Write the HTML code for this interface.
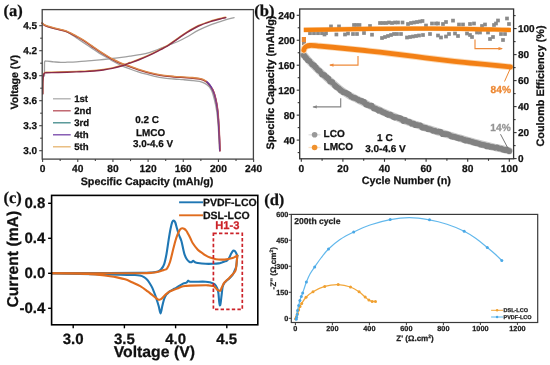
<!DOCTYPE html>
<html><head><meta charset="utf-8"><style>
html,body{margin:0;padding:0;background:#fff;}
svg{display:block;text-rendering:geometricPrecision;will-change:transform;filter:blur(0.3px);}

</style></head><body>
<svg width="550" height="365" viewBox="0 0 550 365">
<rect x="0" y="0" width="550" height="365" fill="#fff"/>
<g fill="none" stroke-linejoin="round" stroke-linecap="round">
<path d="M44.50,76.00 C44.50,74.33 44.45,68.43 44.50,66.00 C44.55,63.57 44.33,62.20 44.80,61.40 C45.27,60.60 45.83,61.13 47.30,61.20 C48.77,61.27 51.33,61.60 53.60,61.80 C55.87,62.00 58.62,62.33 60.90,62.40 C63.18,62.47 64.72,62.30 67.30,62.20 C69.88,62.10 73.37,61.97 76.40,61.80 C79.43,61.63 82.57,61.43 85.50,61.20 C88.43,60.97 91.05,60.68 94.00,60.40 C96.95,60.12 100.15,59.82 103.20,59.50 C106.25,59.18 109.27,58.85 112.30,58.50 C115.33,58.15 118.45,57.78 121.40,57.40 C124.35,57.02 126.97,56.65 130.00,56.20 C133.03,55.75 136.40,55.30 139.60,54.70 C142.80,54.10 146.00,53.52 149.20,52.60 C152.40,51.68 155.60,50.42 158.80,49.20 C162.00,47.98 165.20,46.58 168.40,45.30 C171.60,44.02 174.93,42.88 178.00,41.50 C181.07,40.12 183.37,38.88 186.80,37.00 C190.23,35.12 194.65,32.23 198.60,30.20 C202.55,28.17 206.55,26.35 210.50,24.80 C214.45,23.25 218.37,22.10 222.30,20.90 C226.23,19.70 232.13,18.15 234.10,17.60" stroke="#a0a0a0" stroke-width="1.3"/>
<path d="M42.00,23.20 C43.03,23.80 45.80,25.85 48.20,26.80 C50.60,27.75 53.67,28.20 56.40,28.90 C59.13,29.60 62.55,30.33 64.60,31.00 C66.65,31.67 67.32,32.15 68.70,32.90 C70.08,33.65 71.52,34.62 72.90,35.50 C74.28,36.38 75.28,37.05 77.00,38.20 C78.72,39.35 80.80,40.78 83.20,42.40 C85.60,44.02 88.67,46.07 91.40,47.90 C94.13,49.73 96.85,51.68 99.60,53.40 C102.35,55.12 105.67,56.88 107.90,58.20 C110.13,59.52 110.75,60.07 113.00,61.30 C115.25,62.53 118.57,64.32 121.40,65.60 C124.23,66.88 127.20,67.97 130.00,69.00 C132.80,70.03 135.47,70.93 138.20,71.80 C140.93,72.67 143.67,73.45 146.40,74.20 C149.13,74.95 151.85,75.68 154.60,76.30 C157.35,76.92 159.65,77.45 162.90,77.90 C166.15,78.35 170.72,78.70 174.10,79.00 C177.48,79.30 180.17,79.45 183.20,79.70 C186.23,79.95 189.58,80.22 192.30,80.50 C195.02,80.78 197.68,81.03 199.50,81.40 C201.32,81.77 201.98,82.17 203.20,82.70 C204.42,83.23 205.75,83.88 206.80,84.60 C207.85,85.32 208.63,85.85 209.50,87.00 C210.37,88.15 211.25,89.67 212.00,91.50 C212.75,93.33 213.37,95.58 214.00,98.00 C214.63,100.42 215.25,103.00 215.80,106.00 C216.35,109.00 216.88,112.33 217.30,116.00 C217.72,119.67 218.02,124.00 218.30,128.00 C218.58,132.00 218.82,136.50 219.00,140.00 C219.18,143.50 219.33,147.50 219.40,149.00" stroke="#a0a0a0" stroke-width="1.3"/>
<path d="M42.00,23.20 C42.35,23.52 43.07,24.50 44.10,25.10 C45.13,25.70 46.15,26.17 48.20,26.80 C50.25,27.43 53.67,28.20 56.40,28.90 C59.13,29.60 62.55,30.38 64.60,31.00 C66.65,31.62 67.32,31.98 68.70,32.60 C70.08,33.22 71.52,33.98 72.90,34.70 C74.28,35.42 75.28,35.95 77.00,36.90 C78.72,37.85 80.80,38.88 83.20,40.40 C85.60,41.92 88.67,44.12 91.40,46.00 C94.13,47.88 96.85,49.90 99.60,51.70 C102.35,53.50 105.67,55.47 107.90,56.80 C110.13,58.13 111.05,58.68 113.00,59.70 C114.95,60.72 117.12,61.85 119.60,62.90 C122.08,63.95 124.80,64.87 127.90,66.00 C131.00,67.13 135.12,68.67 138.20,69.70 C141.28,70.73 143.67,71.45 146.40,72.20 C149.13,72.95 151.85,73.60 154.60,74.20 C157.35,74.80 159.65,75.35 162.90,75.80 C166.15,76.25 170.72,76.62 174.10,76.90 C177.48,77.18 180.17,77.30 183.20,77.50 C186.23,77.70 189.58,77.87 192.30,78.10 C195.02,78.33 197.68,78.58 199.50,78.90 C201.32,79.22 201.98,79.47 203.20,80.00 C204.42,80.53 205.75,81.28 206.80,82.10 C207.85,82.92 208.63,83.80 209.50,84.90 C210.37,86.00 211.23,87.25 212.00,88.70 C212.77,90.15 213.43,91.57 214.10,93.60 C214.77,95.63 215.47,98.43 216.00,100.90 C216.53,103.37 216.93,105.65 217.30,108.40 C217.67,111.15 217.92,113.73 218.20,117.40 C218.48,121.07 218.78,126.57 219.00,130.40 C219.22,134.23 219.35,136.97 219.50,140.40 C219.65,143.83 219.83,149.23 219.90,151.00" stroke="#a03a3a" stroke-width="1.6"/>
<path d="M42.00,22.60 C42.35,22.92 43.07,23.90 44.10,24.50 C45.13,25.10 46.15,25.57 48.20,26.20 C50.25,26.83 53.67,27.60 56.40,28.30 C59.13,29.00 62.55,29.78 64.60,30.40 C66.65,31.02 67.32,31.38 68.70,32.00 C70.08,32.62 71.52,33.38 72.90,34.10 C74.28,34.82 75.28,35.35 77.00,36.30 C78.72,37.25 80.80,38.28 83.20,39.80 C85.60,41.32 88.67,43.52 91.40,45.40 C94.13,47.28 96.85,49.30 99.60,51.10 C102.35,52.90 105.67,54.87 107.90,56.20 C110.13,57.53 111.05,58.08 113.00,59.10 C114.95,60.12 117.12,61.25 119.60,62.30 C122.08,63.35 124.80,64.27 127.90,65.40 C131.00,66.53 135.12,68.07 138.20,69.10 C141.28,70.13 143.67,70.85 146.40,71.60 C149.13,72.35 151.85,73.00 154.60,73.60 C157.35,74.20 159.65,74.75 162.90,75.20 C166.15,75.65 170.72,76.02 174.10,76.30 C177.48,76.58 180.17,76.70 183.20,76.90 C186.23,77.10 189.58,77.27 192.30,77.50 C195.02,77.73 197.68,77.98 199.50,78.30 C201.32,78.62 201.98,78.87 203.20,79.40 C204.42,79.93 206.20,81.15 206.80,81.50" stroke="#dd8a4a" stroke-width="1.3"/>
<path d="M42.80,93.50 C42.82,91.50 42.80,84.58 42.90,81.50 C43.00,78.42 43.13,76.45 43.40,75.00 C43.67,73.55 44.00,73.27 44.50,72.80 C45.00,72.33 44.12,72.33 46.40,72.20 C48.68,72.07 53.20,72.13 58.20,72.00 C63.20,71.87 71.93,71.55 76.40,71.40 C80.87,71.25 82.07,71.25 85.00,71.10 C87.93,70.95 90.97,70.77 94.00,70.50 C97.03,70.23 100.15,69.93 103.20,69.50 C106.25,69.07 109.27,68.57 112.30,67.90 C115.33,67.23 118.45,66.40 121.40,65.50 C124.35,64.60 126.97,63.58 130.00,62.50 C133.03,61.42 136.40,60.27 139.60,59.00 C142.80,57.73 146.00,56.38 149.20,54.90 C152.40,53.42 155.60,51.78 158.80,50.10 C162.00,48.42 165.37,46.68 168.40,44.80 C171.43,42.92 173.93,40.92 177.00,38.80 C180.07,36.68 183.20,34.32 186.80,32.10 C190.40,29.88 194.65,27.33 198.60,25.50 C202.55,23.67 206.55,22.37 210.50,21.10 C214.45,19.83 219.75,18.57 222.30,17.90 C224.85,17.23 225.22,17.23 225.80,17.10" stroke="#e0a050" stroke-width="1.4"/>
<path d="M42.80,94.00 C42.82,92.00 42.80,85.08 42.90,82.00 C43.00,78.92 43.13,76.95 43.40,75.50 C43.67,74.05 44.00,73.77 44.50,73.30 C45.00,72.83 44.12,72.83 46.40,72.70 C48.68,72.57 53.20,72.63 58.20,72.50 C63.20,72.37 71.93,72.05 76.40,71.90 C80.87,71.75 82.07,71.75 85.00,71.60 C87.93,71.45 90.97,71.27 94.00,71.00 C97.03,70.73 100.15,70.43 103.20,70.00 C106.25,69.57 109.27,69.07 112.30,68.40 C115.33,67.73 118.45,66.90 121.40,66.00 C124.35,65.10 126.97,64.08 130.00,63.00 C133.03,61.92 136.40,60.77 139.60,59.50 C142.80,58.23 146.00,56.88 149.20,55.40 C152.40,53.92 155.60,52.28 158.80,50.60 C162.00,48.92 165.37,47.18 168.40,45.30 C171.43,43.42 173.93,41.42 177.00,39.30 C180.07,37.18 183.20,34.82 186.80,32.60 C190.40,30.38 194.65,27.83 198.60,26.00 C202.55,24.17 206.55,22.87 210.50,21.60 C214.45,20.33 219.75,19.07 222.30,18.40 C224.85,17.73 225.22,17.73 225.80,17.60" stroke="#8a2a4a" stroke-width="1.4"/>
<path d="M206.80,81.70 C207.25,82.17 208.63,83.40 209.50,84.50 C210.37,85.60 211.23,86.85 212.00,88.30 C212.77,89.75 213.43,91.17 214.10,93.20 C214.77,95.23 215.47,98.03 216.00,100.50 C216.53,102.97 216.93,105.25 217.30,108.00 C217.67,110.75 217.92,113.33 218.20,117.00 C218.48,120.67 218.78,126.17 219.00,130.00 C219.22,133.83 219.35,136.57 219.50,140.00 C219.65,143.43 219.83,148.83 219.90,150.60" stroke="#6a3aa0" stroke-width="1.4"/>
<path d="M212.50,88.30 C212.85,89.12 213.93,91.17 214.60,93.20 C215.27,95.23 215.97,98.03 216.50,100.50 C217.03,102.97 217.43,105.25 217.80,108.00 C218.17,110.75 218.42,113.33 218.70,117.00 C218.98,120.67 219.28,126.17 219.50,130.00 C219.72,133.83 219.85,136.57 220.00,140.00 C220.15,143.43 220.33,148.83 220.40,150.60" stroke="#c0504d" stroke-width="0.7"/>
</g>
<rect x="42.20" y="9.60" width="211.20" height="149.50" fill="none" stroke="#444" stroke-width="1.3"/>
<line x1="39.20" y1="150.69" x2="42.20" y2="150.69" stroke="#444" stroke-width="1.10" />
<text x="37.20" y="154.29" font-size="10.00" text-anchor="end" fill="#111" stroke="#111" stroke-width="0.25" font-family="Liberation Sans, sans-serif" font-weight="bold" >3.0</text>
<line x1="40.20" y1="138.20" x2="42.20" y2="138.20" stroke="#444" stroke-width="1.10" />
<line x1="39.20" y1="125.70" x2="42.20" y2="125.70" stroke="#444" stroke-width="1.10" />
<text x="37.20" y="129.30" font-size="10.00" text-anchor="end" fill="#111" stroke="#111" stroke-width="0.25" font-family="Liberation Sans, sans-serif" font-weight="bold" >3.3</text>
<line x1="40.20" y1="113.20" x2="42.20" y2="113.20" stroke="#444" stroke-width="1.10" />
<line x1="39.20" y1="100.70" x2="42.20" y2="100.70" stroke="#444" stroke-width="1.10" />
<text x="37.20" y="104.30" font-size="10.00" text-anchor="end" fill="#111" stroke="#111" stroke-width="0.25" font-family="Liberation Sans, sans-serif" font-weight="bold" >3.6</text>
<line x1="40.20" y1="88.20" x2="42.20" y2="88.20" stroke="#444" stroke-width="1.10" />
<line x1="39.20" y1="75.70" x2="42.20" y2="75.70" stroke="#444" stroke-width="1.10" />
<text x="37.20" y="79.30" font-size="10.00" text-anchor="end" fill="#111" stroke="#111" stroke-width="0.25" font-family="Liberation Sans, sans-serif" font-weight="bold" >3.9</text>
<line x1="40.20" y1="63.20" x2="42.20" y2="63.20" stroke="#444" stroke-width="1.10" />
<line x1="39.20" y1="50.70" x2="42.20" y2="50.70" stroke="#444" stroke-width="1.10" />
<text x="37.20" y="54.30" font-size="10.00" text-anchor="end" fill="#111" stroke="#111" stroke-width="0.25" font-family="Liberation Sans, sans-serif" font-weight="bold" >4.2</text>
<line x1="40.20" y1="38.20" x2="42.20" y2="38.20" stroke="#444" stroke-width="1.10" />
<line x1="39.20" y1="25.70" x2="42.20" y2="25.70" stroke="#444" stroke-width="1.10" />
<text x="37.20" y="29.30" font-size="10.00" text-anchor="end" fill="#111" stroke="#111" stroke-width="0.25" font-family="Liberation Sans, sans-serif" font-weight="bold" >4.5</text>
<line x1="42.60" y1="159.10" x2="42.60" y2="162.10" stroke="#444" stroke-width="1.10" />
<text x="42.60" y="172.30" font-size="10.20" text-anchor="middle" fill="#111" stroke="#111" stroke-width="0.25" font-family="Liberation Sans, sans-serif" font-weight="bold" >0</text>
<line x1="60.18" y1="159.10" x2="60.18" y2="161.10" stroke="#444" stroke-width="1.10" />
<line x1="77.77" y1="159.10" x2="77.77" y2="162.10" stroke="#444" stroke-width="1.10" />
<text x="77.77" y="172.30" font-size="10.20" text-anchor="middle" fill="#111" stroke="#111" stroke-width="0.25" font-family="Liberation Sans, sans-serif" font-weight="bold" >40</text>
<line x1="95.35" y1="159.10" x2="95.35" y2="161.10" stroke="#444" stroke-width="1.10" />
<line x1="112.94" y1="159.10" x2="112.94" y2="162.10" stroke="#444" stroke-width="1.10" />
<text x="112.94" y="172.30" font-size="10.20" text-anchor="middle" fill="#111" stroke="#111" stroke-width="0.25" font-family="Liberation Sans, sans-serif" font-weight="bold" >80</text>
<line x1="130.52" y1="159.10" x2="130.52" y2="161.10" stroke="#444" stroke-width="1.10" />
<line x1="148.10" y1="159.10" x2="148.10" y2="162.10" stroke="#444" stroke-width="1.10" />
<text x="148.10" y="172.30" font-size="10.20" text-anchor="middle" fill="#111" stroke="#111" stroke-width="0.25" font-family="Liberation Sans, sans-serif" font-weight="bold" >120</text>
<line x1="165.69" y1="159.10" x2="165.69" y2="161.10" stroke="#444" stroke-width="1.10" />
<line x1="183.27" y1="159.10" x2="183.27" y2="162.10" stroke="#444" stroke-width="1.10" />
<text x="183.27" y="172.30" font-size="10.20" text-anchor="middle" fill="#111" stroke="#111" stroke-width="0.25" font-family="Liberation Sans, sans-serif" font-weight="bold" >160</text>
<line x1="200.86" y1="159.10" x2="200.86" y2="161.10" stroke="#444" stroke-width="1.10" />
<line x1="218.44" y1="159.10" x2="218.44" y2="162.10" stroke="#444" stroke-width="1.10" />
<text x="218.44" y="172.30" font-size="10.20" text-anchor="middle" fill="#111" stroke="#111" stroke-width="0.25" font-family="Liberation Sans, sans-serif" font-weight="bold" >200</text>
<line x1="236.02" y1="159.10" x2="236.02" y2="161.10" stroke="#444" stroke-width="1.10" />
<line x1="253.61" y1="159.10" x2="253.61" y2="162.10" stroke="#444" stroke-width="1.10" />
<text x="253.61" y="172.30" font-size="10.20" text-anchor="middle" fill="#111" stroke="#111" stroke-width="0.25" font-family="Liberation Sans, sans-serif" font-weight="bold" >240</text>
<text x="147.00" y="185.00" font-size="10.75" text-anchor="middle" fill="#111" stroke="#111" stroke-width="0.25" font-family="Liberation Sans, sans-serif" font-weight="bold" >Specific Capacity (mAh/g)</text>
<text transform="translate(17.50,82.30) rotate(-90)" x="0" y="0" font-size="10.60" text-anchor="middle" fill="#111" stroke="#111" stroke-width="0.25" font-family="Liberation Sans, sans-serif" font-weight="bold">Voltage (V)</text>
<text x="3.50" y="16.20" font-size="16.50" text-anchor="start" fill="#111" stroke="#111" stroke-width="0.25" font-family="Liberation Serif, serif" font-weight="bold" >(a)</text>
<line x1="53.00" y1="98.80" x2="70.70" y2="98.80" stroke="#adadad" stroke-width="1.30" />
<text x="74.20" y="102.10" font-size="9.60" text-anchor="start" fill="#111" stroke="#111" stroke-width="0.25" font-family="Liberation Sans, sans-serif" font-weight="bold" >1st</text>
<line x1="53.00" y1="110.80" x2="70.70" y2="110.80" stroke="#b8505a" stroke-width="1.30" />
<text x="74.20" y="114.10" font-size="9.60" text-anchor="start" fill="#111" stroke="#111" stroke-width="0.25" font-family="Liberation Sans, sans-serif" font-weight="bold" >2nd</text>
<line x1="53.00" y1="122.80" x2="70.70" y2="122.80" stroke="#3f8a8a" stroke-width="1.30" />
<text x="74.20" y="126.10" font-size="9.60" text-anchor="start" fill="#111" stroke="#111" stroke-width="0.25" font-family="Liberation Sans, sans-serif" font-weight="bold" >3rd</text>
<line x1="53.00" y1="134.80" x2="70.70" y2="134.80" stroke="#7444a8" stroke-width="1.30" />
<text x="74.20" y="138.10" font-size="9.60" text-anchor="start" fill="#111" stroke="#111" stroke-width="0.25" font-family="Liberation Sans, sans-serif" font-weight="bold" >4th</text>
<line x1="53.00" y1="146.80" x2="70.70" y2="146.80" stroke="#e6b46e" stroke-width="1.30" />
<text x="74.20" y="150.10" font-size="9.60" text-anchor="start" fill="#111" stroke="#111" stroke-width="0.25" font-family="Liberation Sans, sans-serif" font-weight="bold" >5th</text>
<text x="135.30" y="122.70" font-size="9.90" text-anchor="start" fill="#111" stroke="#111" stroke-width="0.25" font-family="Liberation Sans, sans-serif" font-weight="bold" >0.2 C</text>
<text x="136.00" y="135.50" font-size="9.90" text-anchor="start" fill="#111" stroke="#111" stroke-width="0.25" font-family="Liberation Sans, sans-serif" font-weight="bold" >LMCO</text>
<text x="133.10" y="146.50" font-size="9.90" text-anchor="start" fill="#111" stroke="#111" stroke-width="0.25" font-family="Liberation Sans, sans-serif" font-weight="bold" >3.0-4.6 V</text>
<rect x="308.15" y="31.35" width="3.7" height="3.7" fill="#8a8a8a"/>
<rect x="312.15" y="31.35" width="3.7" height="3.7" fill="#8a8a8a"/>
<rect x="316.15" y="31.35" width="3.7" height="3.7" fill="#8a8a8a"/>
<rect x="320.15" y="31.35" width="3.7" height="3.7" fill="#8a8a8a"/>
<rect x="324.15" y="31.35" width="3.7" height="3.7" fill="#8a8a8a"/>
<rect x="322.65" y="32.65" width="3.7" height="3.7" fill="#8a8a8a"/>
<rect x="334.55" y="32.65" width="3.7" height="3.7" fill="#8a8a8a"/>
<rect x="343.15" y="32.65" width="3.7" height="3.7" fill="#8a8a8a"/>
<rect x="329.15" y="24.55" width="3.7" height="3.7" fill="#8a8a8a"/>
<rect x="337.15" y="24.55" width="3.7" height="3.7" fill="#8a8a8a"/>
<rect x="352.15" y="23.15" width="3.7" height="3.7" fill="#8a8a8a"/>
<rect x="354.65" y="23.15" width="3.7" height="3.7" fill="#8a8a8a"/>
<rect x="357.65" y="23.15" width="3.7" height="3.7" fill="#8a8a8a"/>
<rect x="368.15" y="24.15" width="3.7" height="3.7" fill="#8a8a8a"/>
<rect x="378.15" y="21.15" width="3.7" height="3.7" fill="#8a8a8a"/>
<rect x="381.15" y="21.15" width="3.7" height="3.7" fill="#8a8a8a"/>
<rect x="384.15" y="21.15" width="3.7" height="3.7" fill="#8a8a8a"/>
<rect x="387.15" y="20.65" width="3.7" height="3.7" fill="#8a8a8a"/>
<rect x="390.15" y="21.15" width="3.7" height="3.7" fill="#8a8a8a"/>
<rect x="346.15" y="31.65" width="3.7" height="3.7" fill="#8a8a8a"/>
<rect x="351.15" y="32.15" width="3.7" height="3.7" fill="#8a8a8a"/>
<rect x="355.15" y="32.15" width="3.7" height="3.7" fill="#8a8a8a"/>
<rect x="362.15" y="31.15" width="3.7" height="3.7" fill="#8a8a8a"/>
<rect x="370.15" y="32.85" width="3.7" height="3.7" fill="#8a8a8a"/>
<rect x="380.15" y="36.15" width="3.7" height="3.7" fill="#8a8a8a"/>
<rect x="383.15" y="35.15" width="3.7" height="3.7" fill="#8a8a8a"/>
<rect x="386.15" y="34.15" width="3.7" height="3.7" fill="#8a8a8a"/>
<rect x="389.15" y="33.15" width="3.7" height="3.7" fill="#8a8a8a"/>
<rect x="392.15" y="32.15" width="3.7" height="3.7" fill="#8a8a8a"/>
<rect x="393.15" y="20.65" width="3.7" height="3.7" fill="#8a8a8a"/>
<rect x="396.15" y="20.65" width="3.7" height="3.7" fill="#8a8a8a"/>
<rect x="400.65" y="20.65" width="3.7" height="3.7" fill="#8a8a8a"/>
<rect x="406.15" y="22.15" width="3.7" height="3.7" fill="#8a8a8a"/>
<rect x="409.15" y="21.15" width="3.7" height="3.7" fill="#8a8a8a"/>
<rect x="412.15" y="20.65" width="3.7" height="3.7" fill="#8a8a8a"/>
<rect x="415.15" y="20.15" width="3.7" height="3.7" fill="#8a8a8a"/>
<rect x="418.15" y="19.65" width="3.7" height="3.7" fill="#8a8a8a"/>
<rect x="420.65" y="19.15" width="3.7" height="3.7" fill="#8a8a8a"/>
<rect x="424.15" y="23.65" width="3.7" height="3.7" fill="#8a8a8a"/>
<rect x="430.15" y="21.65" width="3.7" height="3.7" fill="#8a8a8a"/>
<rect x="434.15" y="21.65" width="3.7" height="3.7" fill="#8a8a8a"/>
<rect x="395.15" y="32.15" width="3.7" height="3.7" fill="#8a8a8a"/>
<rect x="399.15" y="32.15" width="3.7" height="3.7" fill="#8a8a8a"/>
<rect x="405.15" y="35.65" width="3.7" height="3.7" fill="#8a8a8a"/>
<rect x="408.15" y="35.15" width="3.7" height="3.7" fill="#8a8a8a"/>
<rect x="411.15" y="34.65" width="3.7" height="3.7" fill="#8a8a8a"/>
<rect x="414.15" y="34.15" width="3.7" height="3.7" fill="#8a8a8a"/>
<rect x="417.15" y="33.65" width="3.7" height="3.7" fill="#8a8a8a"/>
<rect x="421.15" y="33.15" width="3.7" height="3.7" fill="#8a8a8a"/>
<rect x="428.15" y="32.15" width="3.7" height="3.7" fill="#8a8a8a"/>
<rect x="436.15" y="33.65" width="3.7" height="3.7" fill="#8a8a8a"/>
<rect x="436.15" y="21.65" width="3.7" height="3.7" fill="#8a8a8a"/>
<rect x="441.15" y="22.15" width="3.7" height="3.7" fill="#8a8a8a"/>
<rect x="444.15" y="20.15" width="3.7" height="3.7" fill="#8a8a8a"/>
<rect x="451.15" y="18.75" width="3.7" height="3.7" fill="#8a8a8a"/>
<rect x="457.15" y="22.65" width="3.7" height="3.7" fill="#8a8a8a"/>
<rect x="461.15" y="22.65" width="3.7" height="3.7" fill="#8a8a8a"/>
<rect x="468.15" y="22.15" width="3.7" height="3.7" fill="#8a8a8a"/>
<rect x="472.15" y="21.65" width="3.7" height="3.7" fill="#8a8a8a"/>
<rect x="480.15" y="24.15" width="3.7" height="3.7" fill="#8a8a8a"/>
<rect x="483.15" y="22.65" width="3.7" height="3.7" fill="#8a8a8a"/>
<rect x="439.15" y="35.65" width="3.7" height="3.7" fill="#8a8a8a"/>
<rect x="444.15" y="34.65" width="3.7" height="3.7" fill="#8a8a8a"/>
<rect x="447.15" y="32.15" width="3.7" height="3.7" fill="#8a8a8a"/>
<rect x="453.15" y="31.65" width="3.7" height="3.7" fill="#8a8a8a"/>
<rect x="456.15" y="34.15" width="3.7" height="3.7" fill="#8a8a8a"/>
<rect x="465.15" y="31.65" width="3.7" height="3.7" fill="#8a8a8a"/>
<rect x="468.15" y="33.15" width="3.7" height="3.7" fill="#8a8a8a"/>
<rect x="470.15" y="35.15" width="3.7" height="3.7" fill="#8a8a8a"/>
<rect x="475.15" y="30.65" width="3.7" height="3.7" fill="#8a8a8a"/>
<rect x="478.15" y="30.65" width="3.7" height="3.7" fill="#8a8a8a"/>
<rect x="492.15" y="23.15" width="3.7" height="3.7" fill="#8a8a8a"/>
<rect x="494.15" y="21.65" width="3.7" height="3.7" fill="#8a8a8a"/>
<rect x="496.15" y="18.65" width="3.7" height="3.7" fill="#8a8a8a"/>
<rect x="505.15" y="16.65" width="3.7" height="3.7" fill="#8a8a8a"/>
<rect x="507.15" y="22.15" width="3.7" height="3.7" fill="#8a8a8a"/>
<rect x="486.15" y="30.65" width="3.7" height="3.7" fill="#8a8a8a"/>
<rect x="488.15" y="37.15" width="3.7" height="3.7" fill="#8a8a8a"/>
<rect x="491.15" y="35.15" width="3.7" height="3.7" fill="#8a8a8a"/>
<rect x="499.15" y="32.15" width="3.7" height="3.7" fill="#8a8a8a"/>
<rect x="503.15" y="32.15" width="3.7" height="3.7" fill="#8a8a8a"/>
<rect x="501.15" y="38.15" width="3.7" height="3.7" fill="#8a8a8a"/>
<path d="M303.80,29.90 C307.33,29.85 313.97,29.78 325.00,29.60 C336.03,29.42 355.00,28.97 370.00,28.80 C385.00,28.63 400.00,28.60 415.00,28.60 C430.00,28.60 446.67,28.65 460.00,28.80 C473.33,28.95 486.52,29.30 495.00,29.50 C503.48,29.70 508.25,29.92 510.90,30.00" fill="none" stroke="#f5a45a" stroke-width="5.0" stroke-linecap="butt" opacity="0.5"/>
<path d="M303.80,29.90 C307.33,29.85 313.97,29.78 325.00,29.60 C336.03,29.42 355.00,28.97 370.00,28.80 C385.00,28.63 400.00,28.60 415.00,28.60 C430.00,28.60 446.67,28.65 460.00,28.80 C473.33,28.95 486.52,29.30 495.00,29.50 C503.48,29.70 508.25,29.92 510.90,30.00" fill="none" stroke="#f5820f" stroke-width="4.2" stroke-linecap="butt"/>
<path d="M303.80,54.94 C304.48,55.72 306.54,58.10 307.90,59.61 C309.27,61.12 310.64,62.58 312.01,64.00 C313.38,65.42 314.74,66.80 316.11,68.14 C317.48,69.48 318.85,70.77 320.22,72.04 C321.58,73.31 322.95,74.54 324.32,75.77 C325.69,76.99 327.06,78.18 328.42,79.37 C329.79,80.56 331.16,81.74 332.53,82.91 C333.90,84.08 335.26,85.26 336.63,86.40 C338.00,87.53 339.37,88.66 340.74,89.71 C342.10,90.75 343.47,91.75 344.84,92.67 C346.21,93.58 347.58,94.40 348.94,95.17 C350.31,95.95 351.68,96.64 353.05,97.34 C354.42,98.03 355.78,98.68 357.15,99.35 C358.52,100.02 359.89,100.69 361.26,101.37 C362.62,102.05 363.99,102.74 365.36,103.42 C366.73,104.11 368.10,104.80 369.46,105.47 C370.83,106.15 372.20,106.82 373.57,107.47 C374.94,108.13 376.30,108.77 377.67,109.41 C379.04,110.04 380.41,110.66 381.78,111.27 C383.14,111.88 384.51,112.48 385.88,113.07 C387.25,113.66 388.62,114.23 389.98,114.80 C391.35,115.37 392.72,115.93 394.09,116.48 C395.46,117.03 396.82,117.57 398.19,118.10 C399.56,118.64 400.93,119.16 402.30,119.68 C403.66,120.19 405.03,120.70 406.40,121.21 C407.77,121.71 409.14,122.20 410.50,122.69 C411.87,123.18 413.24,123.66 414.61,124.14 C415.98,124.61 417.34,125.08 418.71,125.55 C420.08,126.01 421.45,126.47 422.82,126.93 C424.18,127.38 425.55,127.83 426.92,128.27 C428.29,128.72 429.66,129.16 431.02,129.59 C432.39,130.03 433.76,130.46 435.13,130.88 C436.50,131.31 437.86,131.73 439.23,132.15 C440.60,132.57 441.97,132.98 443.34,133.40 C444.70,133.81 446.07,134.21 447.44,134.62 C448.81,135.02 450.18,135.43 451.54,135.82 C452.91,136.22 454.28,136.62 455.65,137.01 C457.02,137.41 458.38,137.80 459.75,138.18 C461.12,138.57 462.49,138.96 463.86,139.34 C465.22,139.72 466.59,140.10 467.96,140.48 C469.33,140.86 470.70,141.24 472.06,141.61 C473.43,141.98 474.80,142.36 476.17,142.72 C477.54,143.09 478.90,143.46 480.27,143.82 C481.64,144.19 483.01,144.55 484.38,144.90 C485.74,145.25 487.11,145.59 488.48,145.92 C489.85,146.26 491.22,146.58 492.58,146.89 C493.95,147.20 495.32,147.49 496.69,147.79 C498.06,148.09 499.42,148.38 500.79,148.69 C502.16,149.01 503.53,149.33 504.90,149.68 C506.26,150.03 508.32,150.61 509.00,150.79" fill="none" stroke="#c8c8c8" stroke-width="7.4" stroke-linecap="round" stroke-linejoin="round"/>
<path d="M303.80,54.94 C304.48,55.72 306.54,58.10 307.90,59.61 C309.27,61.12 310.64,62.58 312.01,64.00 C313.38,65.42 314.74,66.80 316.11,68.14 C317.48,69.48 318.85,70.77 320.22,72.04 C321.58,73.31 322.95,74.54 324.32,75.77 C325.69,76.99 327.06,78.18 328.42,79.37 C329.79,80.56 331.16,81.74 332.53,82.91 C333.90,84.08 335.26,85.26 336.63,86.40 C338.00,87.53 339.37,88.66 340.74,89.71 C342.10,90.75 343.47,91.75 344.84,92.67 C346.21,93.58 347.58,94.40 348.94,95.17 C350.31,95.95 351.68,96.64 353.05,97.34 C354.42,98.03 355.78,98.68 357.15,99.35 C358.52,100.02 359.89,100.69 361.26,101.37 C362.62,102.05 363.99,102.74 365.36,103.42 C366.73,104.11 368.10,104.80 369.46,105.47 C370.83,106.15 372.20,106.82 373.57,107.47 C374.94,108.13 376.30,108.77 377.67,109.41 C379.04,110.04 380.41,110.66 381.78,111.27 C383.14,111.88 384.51,112.48 385.88,113.07 C387.25,113.66 388.62,114.23 389.98,114.80 C391.35,115.37 392.72,115.93 394.09,116.48 C395.46,117.03 396.82,117.57 398.19,118.10 C399.56,118.64 400.93,119.16 402.30,119.68 C403.66,120.19 405.03,120.70 406.40,121.21 C407.77,121.71 409.14,122.20 410.50,122.69 C411.87,123.18 413.24,123.66 414.61,124.14 C415.98,124.61 417.34,125.08 418.71,125.55 C420.08,126.01 421.45,126.47 422.82,126.93 C424.18,127.38 425.55,127.83 426.92,128.27 C428.29,128.72 429.66,129.16 431.02,129.59 C432.39,130.03 433.76,130.46 435.13,130.88 C436.50,131.31 437.86,131.73 439.23,132.15 C440.60,132.57 441.97,132.98 443.34,133.40 C444.70,133.81 446.07,134.21 447.44,134.62 C448.81,135.02 450.18,135.43 451.54,135.82 C452.91,136.22 454.28,136.62 455.65,137.01 C457.02,137.41 458.38,137.80 459.75,138.18 C461.12,138.57 462.49,138.96 463.86,139.34 C465.22,139.72 466.59,140.10 467.96,140.48 C469.33,140.86 470.70,141.24 472.06,141.61 C473.43,141.98 474.80,142.36 476.17,142.72 C477.54,143.09 478.90,143.46 480.27,143.82 C481.64,144.19 483.01,144.55 484.38,144.90 C485.74,145.25 487.11,145.59 488.48,145.92 C489.85,146.26 491.22,146.58 492.58,146.89 C493.95,147.20 495.32,147.49 496.69,147.79 C498.06,148.09 499.42,148.38 500.79,148.69 C502.16,149.01 503.53,149.33 504.90,149.68 C506.26,150.03 508.32,150.61 509.00,150.79" fill="none" stroke="#828282" stroke-width="5.0" stroke-linecap="round" stroke-linejoin="round"/>
<circle cx="303.80" cy="55.42" r="2.8" fill="#828282"/>
<circle cx="305.70" cy="58.02" r="2.8" fill="#828282"/>
<circle cx="307.73" cy="60.26" r="2.8" fill="#828282"/>
<circle cx="309.24" cy="61.00" r="2.8" fill="#828282"/>
<circle cx="312.05" cy="64.35" r="2.8" fill="#828282"/>
<circle cx="314.10" cy="65.37" r="2.8" fill="#828282"/>
<circle cx="315.84" cy="67.36" r="2.8" fill="#828282"/>
<circle cx="317.98" cy="70.08" r="2.8" fill="#828282"/>
<circle cx="319.63" cy="70.93" r="2.8" fill="#828282"/>
<circle cx="321.92" cy="74.44" r="2.8" fill="#828282"/>
<circle cx="324.39" cy="75.15" r="2.8" fill="#828282"/>
<circle cx="326.50" cy="76.96" r="2.8" fill="#828282"/>
<circle cx="328.43" cy="78.63" r="2.8" fill="#828282"/>
<circle cx="330.02" cy="81.49" r="2.8" fill="#828282"/>
<circle cx="332.27" cy="82.12" r="2.8" fill="#828282"/>
<circle cx="334.97" cy="85.74" r="2.8" fill="#828282"/>
<circle cx="336.49" cy="87.20" r="2.8" fill="#828282"/>
<circle cx="338.77" cy="88.51" r="2.8" fill="#828282"/>
<circle cx="340.58" cy="90.47" r="2.8" fill="#828282"/>
<circle cx="343.05" cy="92.36" r="2.8" fill="#828282"/>
<circle cx="345.29" cy="92.56" r="2.8" fill="#828282"/>
<circle cx="346.95" cy="93.34" r="2.8" fill="#828282"/>
<circle cx="348.86" cy="94.26" r="2.8" fill="#828282"/>
<circle cx="351.06" cy="96.53" r="2.8" fill="#828282"/>
<circle cx="352.90" cy="97.62" r="2.8" fill="#828282"/>
<circle cx="355.25" cy="98.04" r="2.8" fill="#828282"/>
<circle cx="357.71" cy="99.59" r="2.8" fill="#828282"/>
<circle cx="359.39" cy="100.41" r="2.8" fill="#828282"/>
<circle cx="361.78" cy="100.75" r="2.8" fill="#828282"/>
<circle cx="364.08" cy="101.83" r="2.8" fill="#828282"/>
<circle cx="365.98" cy="104.42" r="2.8" fill="#828282"/>
<circle cx="367.47" cy="105.06" r="2.8" fill="#828282"/>
<circle cx="369.83" cy="105.81" r="2.8" fill="#828282"/>
<circle cx="371.63" cy="105.63" r="2.8" fill="#828282"/>
<circle cx="373.84" cy="108.51" r="2.8" fill="#828282"/>
<circle cx="375.94" cy="109.11" r="2.8" fill="#828282"/>
<circle cx="378.60" cy="110.72" r="2.8" fill="#828282"/>
<circle cx="380.22" cy="110.28" r="2.8" fill="#828282"/>
<circle cx="382.44" cy="112.12" r="2.8" fill="#828282"/>
<circle cx="384.19" cy="112.83" r="2.8" fill="#828282"/>
<circle cx="386.82" cy="114.19" r="2.8" fill="#828282"/>
<circle cx="388.29" cy="114.99" r="2.8" fill="#828282"/>
<circle cx="390.41" cy="114.66" r="2.8" fill="#828282"/>
<circle cx="392.91" cy="116.84" r="2.8" fill="#828282"/>
<circle cx="394.77" cy="117.60" r="2.8" fill="#828282"/>
<circle cx="397.02" cy="117.27" r="2.8" fill="#828282"/>
<circle cx="398.91" cy="117.74" r="2.8" fill="#828282"/>
<circle cx="400.80" cy="118.41" r="2.8" fill="#828282"/>
<circle cx="403.37" cy="121.08" r="2.8" fill="#828282"/>
<circle cx="405.03" cy="119.80" r="2.8" fill="#828282"/>
<circle cx="407.77" cy="121.77" r="2.8" fill="#828282"/>
<circle cx="409.38" cy="121.76" r="2.8" fill="#828282"/>
<circle cx="411.62" cy="123.74" r="2.8" fill="#828282"/>
<circle cx="413.58" cy="123.62" r="2.8" fill="#828282"/>
<circle cx="415.34" cy="125.23" r="2.8" fill="#828282"/>
<circle cx="417.41" cy="125.09" r="2.8" fill="#828282"/>
<circle cx="420.13" cy="125.29" r="2.8" fill="#828282"/>
<circle cx="422.13" cy="127.60" r="2.8" fill="#828282"/>
<circle cx="424.12" cy="127.93" r="2.8" fill="#828282"/>
<circle cx="425.79" cy="127.77" r="2.8" fill="#828282"/>
<circle cx="427.90" cy="129.28" r="2.8" fill="#828282"/>
<circle cx="430.10" cy="129.20" r="2.8" fill="#828282"/>
<circle cx="432.74" cy="130.84" r="2.8" fill="#828282"/>
<circle cx="434.80" cy="130.69" r="2.8" fill="#828282"/>
<circle cx="436.49" cy="131.77" r="2.8" fill="#828282"/>
<circle cx="438.56" cy="131.53" r="2.8" fill="#828282"/>
<circle cx="440.58" cy="131.86" r="2.8" fill="#828282"/>
<circle cx="442.64" cy="134.16" r="2.8" fill="#828282"/>
<circle cx="445.19" cy="134.20" r="2.8" fill="#828282"/>
<circle cx="446.90" cy="134.14" r="2.8" fill="#828282"/>
<circle cx="448.65" cy="134.52" r="2.8" fill="#828282"/>
<circle cx="451.29" cy="136.48" r="2.8" fill="#828282"/>
<circle cx="453.03" cy="136.83" r="2.8" fill="#828282"/>
<circle cx="455.44" cy="137.34" r="2.8" fill="#828282"/>
<circle cx="457.43" cy="138.04" r="2.8" fill="#828282"/>
<circle cx="459.27" cy="138.46" r="2.8" fill="#828282"/>
<circle cx="461.28" cy="138.59" r="2.8" fill="#828282"/>
<circle cx="463.76" cy="139.69" r="2.8" fill="#828282"/>
<circle cx="465.46" cy="140.68" r="2.8" fill="#828282"/>
<circle cx="467.82" cy="140.60" r="2.8" fill="#828282"/>
<circle cx="469.39" cy="140.97" r="2.8" fill="#828282"/>
<circle cx="471.66" cy="141.84" r="2.8" fill="#828282"/>
<circle cx="473.91" cy="142.75" r="2.8" fill="#828282"/>
<circle cx="476.14" cy="143.31" r="2.8" fill="#828282"/>
<circle cx="477.98" cy="143.50" r="2.8" fill="#828282"/>
<circle cx="480.37" cy="144.51" r="2.8" fill="#828282"/>
<circle cx="482.14" cy="145.00" r="2.8" fill="#828282"/>
<circle cx="484.64" cy="145.34" r="2.8" fill="#828282"/>
<circle cx="486.80" cy="146.42" r="2.8" fill="#828282"/>
<circle cx="488.51" cy="145.99" r="2.8" fill="#828282"/>
<circle cx="490.31" cy="147.04" r="2.8" fill="#828282"/>
<circle cx="493.01" cy="146.94" r="2.8" fill="#828282"/>
<circle cx="494.89" cy="147.84" r="2.8" fill="#828282"/>
<circle cx="497.00" cy="147.20" r="2.8" fill="#828282"/>
<circle cx="499.12" cy="148.48" r="2.8" fill="#828282"/>
<circle cx="501.11" cy="148.61" r="2.8" fill="#828282"/>
<circle cx="503.16" cy="149.80" r="2.8" fill="#828282"/>
<circle cx="505.25" cy="150.21" r="2.8" fill="#828282"/>
<circle cx="506.84" cy="149.51" r="2.8" fill="#828282"/>
<circle cx="509.25" cy="151.16" r="2.8" fill="#828282"/>
<rect x="302.0" y="41.6" width="4.0" height="3.4" fill="#9a8a80"/>
<rect x="301.8" y="37.0" width="4.2" height="5.0" fill="#f08a30"/>
<path d="M303.80,50.20 C303.93,49.83 304.15,48.65 304.60,48.00 C305.05,47.35 305.60,46.72 306.50,46.30 C307.40,45.88 308.58,45.62 310.00,45.50 C311.42,45.38 313.33,45.50 315.00,45.60 C316.67,45.70 316.67,45.78 320.00,46.10 C323.33,46.42 330.00,47.02 335.00,47.50 C340.00,47.98 345.00,48.50 350.00,49.00 C355.00,49.50 360.00,49.97 365.00,50.50 C370.00,51.03 374.17,51.52 380.00,52.20 C385.83,52.88 392.50,53.67 400.00,54.60 C407.50,55.53 416.67,56.75 425.00,57.80 C433.33,58.85 442.50,60.03 450.00,60.90 C457.50,61.77 463.33,62.35 470.00,63.00 C476.67,63.65 483.25,64.13 490.00,64.80 C496.75,65.47 507.08,66.63 510.50,67.00" fill="none" stroke="#fbd9b5" stroke-width="6.6" stroke-linecap="round" stroke-linejoin="round"/>
<path d="M303.80,50.20 C303.93,49.83 304.15,48.65 304.60,48.00 C305.05,47.35 305.60,46.72 306.50,46.30 C307.40,45.88 308.58,45.62 310.00,45.50 C311.42,45.38 313.33,45.50 315.00,45.60 C316.67,45.70 316.67,45.78 320.00,46.10 C323.33,46.42 330.00,47.02 335.00,47.50 C340.00,47.98 345.00,48.50 350.00,49.00 C355.00,49.50 360.00,49.97 365.00,50.50 C370.00,51.03 374.17,51.52 380.00,52.20 C385.83,52.88 392.50,53.67 400.00,54.60 C407.50,55.53 416.67,56.75 425.00,57.80 C433.33,58.85 442.50,60.03 450.00,60.90 C457.50,61.77 463.33,62.35 470.00,63.00 C476.67,63.65 483.25,64.13 490.00,64.80 C496.75,65.47 507.08,66.63 510.50,67.00" fill="none" stroke="#f38015" stroke-width="4.8" stroke-linecap="round" stroke-linejoin="round"/>
<path d="M358.00,56.00 L358.00,65.10 L330.00,65.10" fill="none" stroke="#ee8a3a" stroke-width="1.15"/>
<path d="M329.00,65.10 L333.50,63.40 L333.50,66.80 Z" fill="#ee8a3a"/>
<path d="M340.70,98.20 L340.70,106.90 L313.30,106.90" fill="none" stroke="#858585" stroke-width="1.15"/>
<path d="M312.30,106.90 L316.80,105.20 L316.80,108.60 Z" fill="#858585"/>
<path d="M475.00,39.60 L475.00,48.60 L502.00,48.60" fill="none" stroke="#ee8a3a" stroke-width="1.15"/>
<path d="M503.00,48.60 L498.50,46.90 L498.50,50.30 Z" fill="#ee8a3a"/>
<text x="500.80" y="92.60" font-size="10.20" text-anchor="middle" fill="#ec8630" stroke="#ec8630" stroke-width="0.25" font-family="Liberation Sans, sans-serif" font-weight="bold" >84%</text>
<text x="500.50" y="131.00" font-size="10.20" text-anchor="middle" fill="#939393" stroke="#939393" stroke-width="0.25" font-family="Liberation Sans, sans-serif" font-weight="bold" >14%</text>
<path d="M504.5,81.5 L510.3,68.5" stroke="#ec8630" stroke-width="1" fill="none"/>
<path d="M500.5,134.2 L507.8,148" stroke="#777" stroke-width="1" fill="none"/>
<rect x="299.70" y="9.00" width="213.90" height="149.80" fill="none" stroke="#333" stroke-width="1.3"/>
<line x1="297.70" y1="152.58" x2="299.70" y2="152.58" stroke="#333" stroke-width="1.10" />
<line x1="296.70" y1="140.10" x2="299.70" y2="140.10" stroke="#333" stroke-width="1.10" />
<text x="294.90" y="143.60" font-size="10.00" text-anchor="end" fill="#111" stroke="#111" stroke-width="0.25" font-family="Liberation Sans, sans-serif" font-weight="bold" >40</text>
<line x1="297.70" y1="127.62" x2="299.70" y2="127.62" stroke="#333" stroke-width="1.10" />
<line x1="296.70" y1="115.14" x2="299.70" y2="115.14" stroke="#333" stroke-width="1.10" />
<text x="294.90" y="118.64" font-size="10.00" text-anchor="end" fill="#111" stroke="#111" stroke-width="0.25" font-family="Liberation Sans, sans-serif" font-weight="bold" >80</text>
<line x1="297.70" y1="102.66" x2="299.70" y2="102.66" stroke="#333" stroke-width="1.10" />
<line x1="296.70" y1="90.18" x2="299.70" y2="90.18" stroke="#333" stroke-width="1.10" />
<text x="294.90" y="93.68" font-size="10.00" text-anchor="end" fill="#111" stroke="#111" stroke-width="0.25" font-family="Liberation Sans, sans-serif" font-weight="bold" >120</text>
<line x1="297.70" y1="77.70" x2="299.70" y2="77.70" stroke="#333" stroke-width="1.10" />
<line x1="296.70" y1="65.22" x2="299.70" y2="65.22" stroke="#333" stroke-width="1.10" />
<text x="294.90" y="68.72" font-size="10.00" text-anchor="end" fill="#111" stroke="#111" stroke-width="0.25" font-family="Liberation Sans, sans-serif" font-weight="bold" >160</text>
<line x1="297.70" y1="52.74" x2="299.70" y2="52.74" stroke="#333" stroke-width="1.10" />
<line x1="296.70" y1="40.26" x2="299.70" y2="40.26" stroke="#333" stroke-width="1.10" />
<text x="294.90" y="43.76" font-size="10.00" text-anchor="end" fill="#111" stroke="#111" stroke-width="0.25" font-family="Liberation Sans, sans-serif" font-weight="bold" >200</text>
<line x1="297.70" y1="27.78" x2="299.70" y2="27.78" stroke="#333" stroke-width="1.10" />
<line x1="296.70" y1="15.30" x2="299.70" y2="15.30" stroke="#333" stroke-width="1.10" />
<text x="294.90" y="18.80" font-size="10.00" text-anchor="end" fill="#111" stroke="#111" stroke-width="0.25" font-family="Liberation Sans, sans-serif" font-weight="bold" >240</text>
<line x1="513.60" y1="158.60" x2="516.60" y2="158.60" stroke="#333" stroke-width="1.10" />
<text x="518.00" y="162.10" font-size="10.00" text-anchor="start" fill="#111" stroke="#111" stroke-width="0.25" font-family="Liberation Sans, sans-serif" font-weight="bold" >0</text>
<line x1="513.60" y1="145.60" x2="515.60" y2="145.60" stroke="#333" stroke-width="1.10" />
<line x1="513.60" y1="132.60" x2="516.60" y2="132.60" stroke="#333" stroke-width="1.10" />
<text x="518.00" y="136.10" font-size="10.00" text-anchor="start" fill="#111" stroke="#111" stroke-width="0.25" font-family="Liberation Sans, sans-serif" font-weight="bold" >20</text>
<line x1="513.60" y1="119.60" x2="515.60" y2="119.60" stroke="#333" stroke-width="1.10" />
<line x1="513.60" y1="106.60" x2="516.60" y2="106.60" stroke="#333" stroke-width="1.10" />
<text x="518.00" y="110.10" font-size="10.00" text-anchor="start" fill="#111" stroke="#111" stroke-width="0.25" font-family="Liberation Sans, sans-serif" font-weight="bold" >40</text>
<line x1="513.60" y1="93.60" x2="515.60" y2="93.60" stroke="#333" stroke-width="1.10" />
<line x1="513.60" y1="80.60" x2="516.60" y2="80.60" stroke="#333" stroke-width="1.10" />
<text x="518.00" y="84.10" font-size="10.00" text-anchor="start" fill="#111" stroke="#111" stroke-width="0.25" font-family="Liberation Sans, sans-serif" font-weight="bold" >60</text>
<line x1="513.60" y1="67.60" x2="515.60" y2="67.60" stroke="#333" stroke-width="1.10" />
<line x1="513.60" y1="54.60" x2="516.60" y2="54.60" stroke="#333" stroke-width="1.10" />
<text x="518.00" y="58.10" font-size="10.00" text-anchor="start" fill="#111" stroke="#111" stroke-width="0.25" font-family="Liberation Sans, sans-serif" font-weight="bold" >80</text>
<line x1="513.60" y1="41.60" x2="515.60" y2="41.60" stroke="#333" stroke-width="1.10" />
<line x1="513.60" y1="28.60" x2="516.60" y2="28.60" stroke="#333" stroke-width="1.10" />
<text x="518.00" y="32.10" font-size="10.00" text-anchor="start" fill="#111" stroke="#111" stroke-width="0.25" font-family="Liberation Sans, sans-serif" font-weight="bold" >100</text>
<line x1="513.60" y1="15.60" x2="515.60" y2="15.60" stroke="#333" stroke-width="1.10" />
<line x1="301.30" y1="158.80" x2="301.30" y2="161.80" stroke="#333" stroke-width="1.10" />
<text x="301.30" y="172.20" font-size="10.20" text-anchor="middle" fill="#111" stroke="#111" stroke-width="0.25" font-family="Liberation Sans, sans-serif" font-weight="bold" >0</text>
<line x1="322.10" y1="158.80" x2="322.10" y2="160.80" stroke="#333" stroke-width="1.10" />
<line x1="342.90" y1="158.80" x2="342.90" y2="161.80" stroke="#333" stroke-width="1.10" />
<text x="342.90" y="172.20" font-size="10.20" text-anchor="middle" fill="#111" stroke="#111" stroke-width="0.25" font-family="Liberation Sans, sans-serif" font-weight="bold" >20</text>
<line x1="363.70" y1="158.80" x2="363.70" y2="160.80" stroke="#333" stroke-width="1.10" />
<line x1="384.50" y1="158.80" x2="384.50" y2="161.80" stroke="#333" stroke-width="1.10" />
<text x="384.50" y="172.20" font-size="10.20" text-anchor="middle" fill="#111" stroke="#111" stroke-width="0.25" font-family="Liberation Sans, sans-serif" font-weight="bold" >40</text>
<line x1="405.30" y1="158.80" x2="405.30" y2="160.80" stroke="#333" stroke-width="1.10" />
<line x1="426.10" y1="158.80" x2="426.10" y2="161.80" stroke="#333" stroke-width="1.10" />
<text x="426.10" y="172.20" font-size="10.20" text-anchor="middle" fill="#111" stroke="#111" stroke-width="0.25" font-family="Liberation Sans, sans-serif" font-weight="bold" >60</text>
<line x1="446.90" y1="158.80" x2="446.90" y2="160.80" stroke="#333" stroke-width="1.10" />
<line x1="467.70" y1="158.80" x2="467.70" y2="161.80" stroke="#333" stroke-width="1.10" />
<text x="467.70" y="172.20" font-size="10.20" text-anchor="middle" fill="#111" stroke="#111" stroke-width="0.25" font-family="Liberation Sans, sans-serif" font-weight="bold" >80</text>
<line x1="488.50" y1="158.80" x2="488.50" y2="160.80" stroke="#333" stroke-width="1.10" />
<line x1="509.30" y1="158.80" x2="509.30" y2="161.80" stroke="#333" stroke-width="1.10" />
<text x="509.30" y="172.20" font-size="10.20" text-anchor="middle" fill="#111" stroke="#111" stroke-width="0.25" font-family="Liberation Sans, sans-serif" font-weight="bold" >100</text>
<text x="406.30" y="184.30" font-size="10.75" text-anchor="middle" fill="#111" stroke="#111" stroke-width="0.25" font-family="Liberation Sans, sans-serif" font-weight="bold" >Cycle Number (n)</text>
<text transform="translate(274.30,82.50) rotate(-90)" x="0" y="0" font-size="10.85" text-anchor="middle" fill="#111" stroke="#111" stroke-width="0.25" font-family="Liberation Sans, sans-serif" font-weight="bold">Specific Capacity (mAh/g)</text>
<text transform="translate(544.40,86.00) rotate(-90)" x="0" y="0" font-size="10.85" text-anchor="middle" fill="#111" stroke="#111" stroke-width="0.25" font-family="Liberation Sans, sans-serif" font-weight="bold">Coulomb Efficiency (%)</text>
<text x="254.30" y="15.60" font-size="16.50" text-anchor="start" fill="#111" stroke="#111" stroke-width="0.25" font-family="Liberation Serif, serif" font-weight="bold" >(b)</text>
<line x1="308.50" y1="134.80" x2="320.50" y2="134.80" stroke="#e2e2e2" stroke-width="1.30" />
<circle cx="314.6" cy="134.8" r="2.8" fill="#999"/>
<line x1="308.50" y1="147.50" x2="320.50" y2="147.50" stroke="#fde3c6" stroke-width="1.30" />
<circle cx="314.6" cy="147.5" r="2.8" fill="#f0922e"/>
<text x="323.50" y="136.90" font-size="10.05" text-anchor="start" fill="#111" stroke="#111" stroke-width="0.25" font-family="Liberation Sans, sans-serif" font-weight="bold" >LCO</text>
<text x="323.50" y="149.60" font-size="10.05" text-anchor="start" fill="#111" stroke="#111" stroke-width="0.25" font-family="Liberation Sans, sans-serif" font-weight="bold" >LMCO</text>
<text x="384.90" y="141.00" font-size="10.00" text-anchor="middle" fill="#111" stroke="#111" stroke-width="0.25" font-family="Liberation Sans, sans-serif" font-weight="bold" >1 C</text>
<text x="385.50" y="151.60" font-size="10.00" text-anchor="middle" fill="#111" stroke="#111" stroke-width="0.25" font-family="Liberation Sans, sans-serif" font-weight="bold" >3.0-4.6 V</text>
<g fill="none" stroke-width="2.1" stroke-linejoin="round" stroke-linecap="round">
<path d="M52.00,273.00 C60.00,273.00 85.33,273.02 100.00,273.00 C114.67,272.98 131.33,272.98 140.00,272.90 C148.67,272.82 149.00,272.72 152.00,272.50 C155.00,272.28 156.50,272.10 158.00,271.60 C159.50,271.10 159.98,270.72 161.00,269.50 C162.02,268.28 163.18,266.88 164.10,264.30 C165.02,261.72 165.75,258.03 166.50,254.00 C167.25,249.97 167.93,244.27 168.60,240.10 C169.27,235.93 169.90,231.98 170.50,229.00 C171.10,226.02 171.65,223.60 172.20,222.20 C172.75,220.80 173.28,220.55 173.80,220.60 C174.32,220.65 174.77,221.18 175.30,222.50 C175.83,223.82 176.38,226.42 177.00,228.50 C177.62,230.58 178.27,232.92 179.00,235.00 C179.73,237.08 180.70,238.67 181.40,241.00 C182.10,243.33 182.65,246.70 183.20,249.00 C183.75,251.30 184.07,253.05 184.70,254.80 C185.33,256.55 186.18,258.30 187.00,259.50 C187.82,260.70 188.85,261.55 189.60,262.00 C190.35,262.45 190.90,262.38 191.50,262.20 C192.10,262.02 192.62,260.90 193.20,260.90 C193.78,260.90 194.22,261.85 195.00,262.20 C195.78,262.55 196.13,262.73 197.90,263.00 C199.67,263.27 203.15,263.67 205.60,263.80 C208.05,263.93 210.43,263.87 212.60,263.80 C214.77,263.73 217.03,263.63 218.60,263.40 C220.17,263.17 220.93,262.73 222.00,262.40 C223.07,262.07 224.10,261.77 225.00,261.40 C225.90,261.03 226.65,260.90 227.40,260.20 C228.15,259.50 228.87,258.30 229.50,257.20 C230.13,256.10 230.58,254.70 231.20,253.60 C231.82,252.50 232.60,251.03 233.20,250.60 C233.80,250.17 234.30,250.57 234.80,251.00 C235.30,251.43 235.78,252.43 236.20,253.20 C236.62,253.97 237.12,255.20 237.30,255.60" stroke="#1f77b4"/>
<path d="M237.30,255.60 C237.22,256.50 236.98,259.17 236.80,261.00 C236.62,262.83 236.58,264.93 236.20,266.60 C235.82,268.27 235.05,269.70 234.50,271.00 C233.95,272.30 233.73,273.20 232.90,274.40 C232.07,275.60 230.58,277.13 229.50,278.20 C228.42,279.27 227.32,279.92 226.40,280.80 C225.48,281.68 224.63,282.47 224.00,283.50 C223.37,284.53 223.00,285.08 222.60,287.00 C222.20,288.92 221.92,292.42 221.60,295.00 C221.28,297.58 220.98,300.77 220.70,302.50 C220.42,304.23 220.17,305.65 219.90,305.40 C219.63,305.15 219.35,303.07 219.10,301.00 C218.85,298.93 218.70,295.08 218.40,293.00 C218.10,290.92 217.92,289.97 217.30,288.50 C216.68,287.03 215.92,285.23 214.70,284.20 C213.48,283.17 211.52,282.72 210.00,282.30 C208.48,281.88 208.60,281.80 205.60,281.70 C202.60,281.60 194.77,281.77 192.00,281.70 C189.23,281.63 189.63,281.45 189.00,281.30 C188.37,281.15 188.62,280.58 188.20,280.80 C187.78,281.02 187.37,282.13 186.50,282.60 C185.63,283.07 184.72,282.73 183.00,283.60 C181.28,284.47 177.83,286.85 176.20,287.80 C174.57,288.75 174.23,288.73 173.20,289.30 C172.17,289.87 170.95,290.50 170.00,291.20 C169.05,291.90 168.20,292.80 167.50,293.50 C166.80,294.20 166.38,294.40 165.80,295.40 C165.22,296.40 164.58,297.73 164.00,299.50 C163.42,301.27 162.87,303.68 162.30,306.00 C161.73,308.32 161.18,313.32 160.60,313.40 C160.02,313.48 159.35,308.48 158.80,306.50 C158.25,304.52 157.90,303.38 157.30,301.50 C156.70,299.62 156.05,297.52 155.20,295.20 C154.35,292.88 153.15,289.63 152.20,287.60 C151.25,285.57 150.33,284.30 149.50,283.00 C148.67,281.70 148.12,280.77 147.20,279.80 C146.28,278.83 145.20,277.90 144.00,277.20 C142.80,276.50 141.50,275.97 140.00,275.60 C138.50,275.23 138.33,275.13 135.00,275.00 C131.67,274.87 125.83,274.90 120.00,274.80 C114.17,274.70 106.67,274.55 100.00,274.40 C93.33,274.25 88.00,274.07 80.00,273.90 C72.00,273.73 56.67,273.48 52.00,273.40" stroke="#1f77b4"/>
<path d="M52.00,273.20 C60.00,273.22 85.33,273.30 100.00,273.30 C114.67,273.30 131.33,273.28 140.00,273.20 C148.67,273.12 149.00,273.03 152.00,272.80 C155.00,272.57 156.33,272.18 158.00,271.80 C159.67,271.42 160.83,270.87 162.00,270.50 C163.17,270.13 164.15,269.95 165.00,269.60 C165.85,269.25 166.27,269.67 167.10,268.40 C167.93,267.13 168.98,265.20 170.00,262.00 C171.02,258.80 172.28,252.78 173.20,249.20 C174.12,245.62 174.75,243.02 175.50,240.50 C176.25,237.98 176.95,235.92 177.70,234.10 C178.45,232.28 179.25,230.58 180.00,229.60 C180.75,228.62 181.45,228.30 182.20,228.20 C182.95,228.10 183.78,228.53 184.50,229.00 C185.22,229.47 185.88,230.15 186.50,231.00 C187.12,231.85 187.53,232.85 188.20,234.10 C188.87,235.35 189.73,236.98 190.50,238.50 C191.27,240.02 191.58,241.33 192.80,243.20 C194.02,245.07 196.43,248.20 197.80,249.70 C199.17,251.20 199.70,251.25 201.00,252.20 C202.30,253.15 204.10,254.52 205.60,255.40 C207.10,256.28 208.27,256.87 210.00,257.50 C211.73,258.13 214.00,258.85 216.00,259.20 C218.00,259.55 220.27,259.57 222.00,259.60 C223.73,259.63 224.98,259.57 226.40,259.40 C227.82,259.23 229.20,258.93 230.50,258.60 C231.80,258.27 233.07,257.90 234.20,257.40 C235.33,256.90 236.78,255.90 237.30,255.60" stroke="#e06c1e"/>
<path d="M237.30,255.60 C237.15,257.17 236.70,262.52 236.40,265.00 C236.10,267.48 236.15,268.92 235.50,270.50 C234.85,272.08 233.58,273.22 232.50,274.50 C231.42,275.78 230.08,277.12 229.00,278.20 C227.92,279.28 226.87,280.13 226.00,281.00 C225.13,281.87 224.50,282.32 223.80,283.40 C223.10,284.48 222.38,286.27 221.80,287.50 C221.22,288.73 220.82,290.30 220.30,290.80 C219.78,291.30 219.20,290.67 218.70,290.50 C218.20,290.33 217.83,290.25 217.30,289.80 C216.77,289.35 216.15,288.43 215.50,287.80 C214.85,287.17 214.48,286.38 213.40,286.00 C212.32,285.62 210.30,285.62 209.00,285.50 C207.70,285.38 208.77,285.28 205.60,285.30 C202.43,285.32 193.40,285.48 190.00,285.60 C186.60,285.72 186.63,285.80 185.20,286.00 C183.77,286.20 182.77,286.37 181.40,286.80 C180.03,287.23 178.37,288.05 177.00,288.60 C175.63,289.15 174.37,289.63 173.20,290.10 C172.03,290.57 171.23,290.68 170.00,291.40 C168.77,292.12 166.97,293.43 165.80,294.40 C164.63,295.37 163.75,296.45 163.00,297.20 C162.25,297.95 161.87,298.48 161.30,298.90 C160.73,299.32 160.12,299.58 159.60,299.70 C159.08,299.82 158.93,299.98 158.20,299.60 C157.47,299.22 156.32,298.27 155.20,297.40 C154.08,296.53 152.75,295.40 151.50,294.40 C150.25,293.40 149.58,292.78 147.70,291.40 C145.82,290.02 142.82,287.63 140.20,286.10 C137.58,284.57 134.52,283.33 132.00,282.20 C129.48,281.07 127.60,280.10 125.10,279.30 C122.60,278.50 119.52,277.92 117.00,277.40 C114.48,276.88 112.83,276.62 110.00,276.20 C107.17,275.78 103.33,275.25 100.00,274.90 C96.67,274.55 93.33,274.30 90.00,274.10 C86.67,273.90 86.33,273.83 80.00,273.70 C73.67,273.57 56.67,273.37 52.00,273.30" stroke="#e06c1e"/>
</g>
<rect x="213.4" y="233.4" width="28.9" height="76" fill="none" stroke="#cc2229" stroke-width="1.7" stroke-dasharray="3.4,2.2"/>
<text x="227.30" y="229.00" font-size="11.20" text-anchor="middle" fill="#cc2229" stroke="#cc2229" stroke-width="0.25" font-family="Liberation Sans, sans-serif" font-weight="bold" >H1-3</text>
<line x1="179.10" y1="202.30" x2="203.00" y2="202.30" stroke="#1f77b4" stroke-width="1.90" />
<line x1="179.10" y1="215.30" x2="203.00" y2="215.30" stroke="#e06c1e" stroke-width="1.90" />
<text x="203.00" y="206.10" font-size="10.50" text-anchor="start" fill="#111" stroke="#111" stroke-width="0.25" font-family="Liberation Sans, sans-serif" font-weight="bold" >PVDF-LCO</text>
<text x="203.00" y="219.10" font-size="10.50" text-anchor="start" fill="#111" stroke="#111" stroke-width="0.25" font-family="Liberation Sans, sans-serif" font-weight="bold" >DSL-LCO</text>
<rect x="51.60" y="195.40" width="206.20" height="129.40" fill="none" stroke="#000" stroke-width="1.6"/>
<line x1="48.10" y1="308.30" x2="51.60" y2="308.30" stroke="#000" stroke-width="1.40" />
<text x="45.30" y="312.90" font-size="15.00" text-anchor="end" fill="#111" stroke="#111" stroke-width="0.25" font-family="Liberation Sans, sans-serif" font-weight="bold" >-0.4</text>
<line x1="48.10" y1="273.30" x2="51.60" y2="273.30" stroke="#000" stroke-width="1.40" />
<text x="45.30" y="277.90" font-size="15.00" text-anchor="end" fill="#111" stroke="#111" stroke-width="0.25" font-family="Liberation Sans, sans-serif" font-weight="bold" >0.0</text>
<line x1="48.10" y1="238.30" x2="51.60" y2="238.30" stroke="#000" stroke-width="1.40" />
<text x="45.30" y="242.90" font-size="15.00" text-anchor="end" fill="#111" stroke="#111" stroke-width="0.25" font-family="Liberation Sans, sans-serif" font-weight="bold" >0.4</text>
<line x1="48.10" y1="203.30" x2="51.60" y2="203.30" stroke="#000" stroke-width="1.40" />
<text x="45.30" y="207.90" font-size="15.00" text-anchor="end" fill="#111" stroke="#111" stroke-width="0.25" font-family="Liberation Sans, sans-serif" font-weight="bold" >0.8</text>
<line x1="73.20" y1="324.80" x2="73.20" y2="328.30" stroke="#000" stroke-width="1.40" />
<text x="73.20" y="343.80" font-size="15.00" text-anchor="middle" fill="#111" stroke="#111" stroke-width="0.25" font-family="Liberation Sans, sans-serif" font-weight="bold" >3.0</text>
<line x1="124.40" y1="324.80" x2="124.40" y2="328.30" stroke="#000" stroke-width="1.40" />
<text x="124.40" y="343.80" font-size="15.00" text-anchor="middle" fill="#111" stroke="#111" stroke-width="0.25" font-family="Liberation Sans, sans-serif" font-weight="bold" >3.5</text>
<line x1="175.60" y1="324.80" x2="175.60" y2="328.30" stroke="#000" stroke-width="1.40" />
<text x="175.60" y="343.80" font-size="15.00" text-anchor="middle" fill="#111" stroke="#111" stroke-width="0.25" font-family="Liberation Sans, sans-serif" font-weight="bold" >4.0</text>
<line x1="226.80" y1="324.80" x2="226.80" y2="328.30" stroke="#000" stroke-width="1.40" />
<text x="226.80" y="343.80" font-size="15.00" text-anchor="middle" fill="#111" stroke="#111" stroke-width="0.25" font-family="Liberation Sans, sans-serif" font-weight="bold" >4.5</text>
<text x="154.30" y="357.40" font-size="15.80" text-anchor="middle" fill="#111" stroke="#111" stroke-width="0.25" font-family="Liberation Sans, sans-serif" font-weight="bold" >Voltage (V)</text>
<text transform="translate(18.40,259.20) rotate(-90)" x="0" y="0" font-size="15.70" text-anchor="middle" fill="#111" stroke="#111" stroke-width="0.25" font-family="Liberation Sans, sans-serif" font-weight="bold">Current (mA)</text>
<text x="3.50" y="202.70" font-size="16.50" text-anchor="start" fill="#111" stroke="#111" stroke-width="0.25" font-family="Liberation Serif, serif" font-weight="bold" >(c)</text>
<path d="M295.50,318.80 C295.67,318.42 296.17,317.38 296.50,316.50 C296.83,315.62 297.15,314.58 297.50,313.50 C297.85,312.42 298.18,311.17 298.60,310.00 C299.02,308.83 299.48,307.58 300.00,306.50 C300.52,305.42 300.70,305.03 301.70,303.50 C302.70,301.97 304.12,299.25 306.00,297.30 C307.88,295.35 309.88,293.62 313.00,291.80 C316.12,289.98 320.50,287.60 324.70,286.40 C328.90,285.20 333.90,284.50 338.20,284.60 C342.50,284.70 347.02,285.80 350.50,287.00 C353.98,288.20 356.65,290.12 359.10,291.80 C361.55,293.48 363.57,295.72 365.20,297.10 C366.83,298.48 367.73,299.38 368.90,300.10 C370.07,300.82 371.10,301.18 372.20,301.40 C373.30,301.62 374.95,301.40 375.50,301.40" fill="none" stroke="#f2a73b" stroke-width="1.25"/>
<circle cx="295.50" cy="318.80" r="1.5" fill="#f0a030"/>
<circle cx="296.50" cy="316.50" r="1.5" fill="#f0a030"/>
<circle cx="297.50" cy="313.50" r="1.5" fill="#f0a030"/>
<circle cx="298.60" cy="310.00" r="1.5" fill="#f0a030"/>
<circle cx="300.00" cy="306.50" r="1.5" fill="#f0a030"/>
<circle cx="301.70" cy="303.50" r="1.5" fill="#f0a030"/>
<circle cx="306.00" cy="297.30" r="1.5" fill="#f0a030"/>
<circle cx="313.00" cy="291.80" r="1.5" fill="#f0a030"/>
<circle cx="324.70" cy="286.40" r="1.5" fill="#f0a030"/>
<circle cx="338.20" cy="284.60" r="1.5" fill="#f0a030"/>
<circle cx="350.50" cy="287.00" r="1.5" fill="#f0a030"/>
<circle cx="359.10" cy="291.80" r="1.5" fill="#f0a030"/>
<circle cx="365.20" cy="297.10" r="1.5" fill="#f0a030"/>
<circle cx="368.90" cy="300.10" r="1.5" fill="#f0a030"/>
<circle cx="372.20" cy="301.40" r="1.5" fill="#f0a030"/>
<circle cx="375.50" cy="301.40" r="1.5" fill="#f0a030"/>
<path d="M296.20,319.20 C296.27,318.92 296.43,318.28 296.60,317.50 C296.77,316.72 297.05,315.67 297.20,314.50 C297.35,313.33 297.25,312.00 297.50,310.50 C297.75,309.00 298.30,307.17 298.70,305.50 C299.10,303.83 299.47,302.00 299.90,300.50 C300.33,299.00 300.83,297.77 301.30,296.50 C301.77,295.23 302.17,294.40 302.70,292.90 C303.23,291.40 303.88,289.33 304.50,287.50 C305.12,285.67 305.48,284.15 306.40,281.90 C307.32,279.65 308.62,276.50 310.00,274.00 C311.38,271.50 312.87,269.57 314.70,266.90 C316.53,264.23 318.70,260.98 321.00,258.00 C323.30,255.02 325.33,252.08 328.50,249.00 C331.67,245.92 335.80,242.33 340.00,239.50 C344.20,236.67 348.70,234.42 353.70,232.00 C358.70,229.58 363.92,227.07 370.00,225.00 C376.08,222.93 383.62,220.83 390.20,219.60 C396.78,218.37 402.95,217.57 409.50,217.60 C416.05,217.63 423.25,218.70 429.50,219.80 C435.75,220.90 441.22,222.30 447.00,224.20 C452.78,226.10 459.37,228.82 464.20,231.20 C469.03,233.58 472.15,235.78 476.00,238.50 C479.85,241.22 484.13,244.92 487.30,247.50 C490.47,250.08 492.58,251.83 495.00,254.00 C497.42,256.17 500.67,259.42 501.80,260.50" fill="none" stroke="#62b8ec" stroke-width="1.2"/>
<circle cx="296.20" cy="319.20" r="1.5" fill="#4aa8e6"/>
<circle cx="296.60" cy="317.50" r="1.5" fill="#4aa8e6"/>
<circle cx="297.20" cy="314.50" r="1.5" fill="#4aa8e6"/>
<circle cx="297.50" cy="310.50" r="1.5" fill="#4aa8e6"/>
<circle cx="298.70" cy="305.50" r="1.5" fill="#4aa8e6"/>
<circle cx="299.90" cy="300.50" r="1.5" fill="#4aa8e6"/>
<circle cx="301.30" cy="296.50" r="1.5" fill="#4aa8e6"/>
<circle cx="302.70" cy="292.90" r="1.5" fill="#4aa8e6"/>
<circle cx="306.40" cy="281.90" r="1.5" fill="#4aa8e6"/>
<circle cx="314.70" cy="266.90" r="1.5" fill="#4aa8e6"/>
<circle cx="328.50" cy="249.00" r="1.5" fill="#4aa8e6"/>
<circle cx="353.70" cy="232.00" r="1.5" fill="#4aa8e6"/>
<circle cx="390.20" cy="219.60" r="1.5" fill="#4aa8e6"/>
<circle cx="429.50" cy="219.80" r="1.5" fill="#4aa8e6"/>
<circle cx="464.20" cy="231.20" r="1.5" fill="#4aa8e6"/>
<circle cx="487.30" cy="247.50" r="1.5" fill="#4aa8e6"/>
<circle cx="501.80" cy="260.50" r="1.5" fill="#4aa8e6"/>
<rect x="291.30" y="214.40" width="246.40" height="108.10" fill="none" stroke="#3a3a3a" stroke-width="1.2"/>
<line x1="288.80" y1="318.30" x2="291.30" y2="318.30" stroke="#3a3a3a" stroke-width="1.00" />
<text x="288.40" y="320.80" font-size="7.30" text-anchor="end" fill="#222" stroke="#222" stroke-width="0.25" font-family="Liberation Sans, sans-serif" font-weight="bold" >0</text>
<line x1="288.80" y1="292.28" x2="291.30" y2="292.28" stroke="#3a3a3a" stroke-width="1.00" />
<text x="288.40" y="294.78" font-size="7.30" text-anchor="end" fill="#222" stroke="#222" stroke-width="0.25" font-family="Liberation Sans, sans-serif" font-weight="bold" >150</text>
<line x1="288.80" y1="266.25" x2="291.30" y2="266.25" stroke="#3a3a3a" stroke-width="1.00" />
<text x="288.40" y="268.75" font-size="7.30" text-anchor="end" fill="#222" stroke="#222" stroke-width="0.25" font-family="Liberation Sans, sans-serif" font-weight="bold" >300</text>
<line x1="288.80" y1="240.23" x2="291.30" y2="240.23" stroke="#3a3a3a" stroke-width="1.00" />
<text x="288.40" y="242.73" font-size="7.30" text-anchor="end" fill="#222" stroke="#222" stroke-width="0.25" font-family="Liberation Sans, sans-serif" font-weight="bold" >450</text>
<line x1="288.80" y1="214.40" x2="291.30" y2="214.40" stroke="#3a3a3a" stroke-width="1.00" />
<text x="288.40" y="216.90" font-size="7.30" text-anchor="end" fill="#222" stroke="#222" stroke-width="0.25" font-family="Liberation Sans, sans-serif" font-weight="bold" >600</text>
<line x1="295.40" y1="322.50" x2="295.40" y2="325.00" stroke="#3a3a3a" stroke-width="1.00" />
<text x="295.40" y="331.40" font-size="7.30" text-anchor="middle" fill="#222" stroke="#222" stroke-width="0.25" font-family="Liberation Sans, sans-serif" font-weight="bold" >0</text>
<line x1="332.40" y1="322.50" x2="332.40" y2="325.00" stroke="#3a3a3a" stroke-width="1.00" />
<text x="332.40" y="331.40" font-size="7.30" text-anchor="middle" fill="#222" stroke="#222" stroke-width="0.25" font-family="Liberation Sans, sans-serif" font-weight="bold" >200</text>
<line x1="369.40" y1="322.50" x2="369.40" y2="325.00" stroke="#3a3a3a" stroke-width="1.00" />
<text x="369.40" y="331.40" font-size="7.30" text-anchor="middle" fill="#222" stroke="#222" stroke-width="0.25" font-family="Liberation Sans, sans-serif" font-weight="bold" >400</text>
<line x1="406.40" y1="322.50" x2="406.40" y2="325.00" stroke="#3a3a3a" stroke-width="1.00" />
<text x="406.40" y="331.40" font-size="7.30" text-anchor="middle" fill="#222" stroke="#222" stroke-width="0.25" font-family="Liberation Sans, sans-serif" font-weight="bold" >600</text>
<line x1="443.40" y1="322.50" x2="443.40" y2="325.00" stroke="#3a3a3a" stroke-width="1.00" />
<text x="443.40" y="331.40" font-size="7.30" text-anchor="middle" fill="#222" stroke="#222" stroke-width="0.25" font-family="Liberation Sans, sans-serif" font-weight="bold" >800</text>
<line x1="480.40" y1="322.50" x2="480.40" y2="325.00" stroke="#3a3a3a" stroke-width="1.00" />
<text x="480.40" y="331.40" font-size="7.30" text-anchor="middle" fill="#222" stroke="#222" stroke-width="0.25" font-family="Liberation Sans, sans-serif" font-weight="bold" >1000</text>
<line x1="517.40" y1="322.50" x2="517.40" y2="325.00" stroke="#3a3a3a" stroke-width="1.00" />
<text x="517.40" y="331.40" font-size="7.30" text-anchor="middle" fill="#222" stroke="#222" stroke-width="0.25" font-family="Liberation Sans, sans-serif" font-weight="bold" >1200</text>
<text x="415.00" y="340.90" font-size="8.00" text-anchor="middle" fill="#222" stroke="#222" stroke-width="0.25" font-family="Liberation Sans, sans-serif" font-weight="bold" >Z' (&#937;.cm<tspan font-size="5" dy="-3">2</tspan><tspan dy="3">)</tspan></text>
<text transform="translate(275.8,268.3) rotate(-90)" font-size="8.1" text-anchor="middle" fill="#222" stroke="#222" stroke-width="0.2" font-family="Liberation Sans, sans-serif" font-weight="bold">-Z'' (&#937;.cm<tspan font-size="5" dy="-3">2</tspan><tspan dy="3">)</tspan></text>
<text x="294.30" y="223.80" font-size="8.55" text-anchor="start" fill="#222" stroke="#222" stroke-width="0.25" font-family="Liberation Sans, sans-serif" font-weight="bold" >200th cycle</text>
<text x="264.20" y="204.70" font-size="16.50" text-anchor="start" fill="#111" stroke="#111" stroke-width="0.25" font-family="Liberation Serif, serif" font-weight="bold" >(d)</text>
<line x1="491.10" y1="310.30" x2="503.20" y2="310.30" stroke="#f2a73b" stroke-width="1.00" />
<circle cx="497.1" cy="310.3" r="1.2" fill="#f0a030"/>
<line x1="491.10" y1="317.00" x2="503.20" y2="317.00" stroke="#5ab4ea" stroke-width="1.00" />
<circle cx="497.1" cy="317.0" r="1.2" fill="#4aa8e6"/>
<text x="503.50" y="312.30" font-size="5.50" text-anchor="start" fill="#222" stroke="#222" stroke-width="0.25" font-family="Liberation Sans, sans-serif" font-weight="bold" >DSL-LCO</text>
<text x="503.50" y="319.00" font-size="5.50" text-anchor="start" fill="#222" stroke="#222" stroke-width="0.25" font-family="Liberation Sans, sans-serif" font-weight="bold" >PVDF-LCO</text>
</svg>
</body></html>
